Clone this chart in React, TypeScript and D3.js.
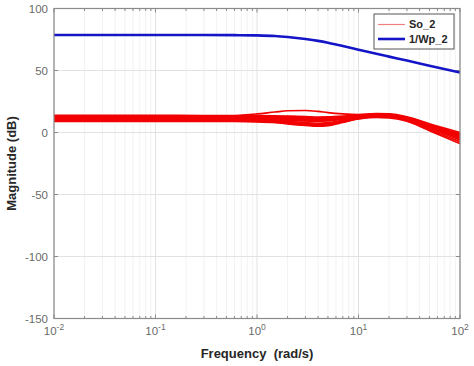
import React from "react";
import * as d3 from "d3";

const freqs = [0.01, 0.1, 0.3, 0.6, 1, 1.5, 2, 3, 4, 5, 7, 10, 15, 20, 30, 50, 100];
const wpInv = [78.6, 78.6, 78.6, 78.5, 78.3, 77.8, 77.0, 75.4, 73.9, 72.4, 69.7, 66.8, 63.5, 61.2, 58.0, 53.9, 48.4];
const so2Curves: number[][] = [
  [12.5, 12.5, 12.8, 13.5, 15.0, 16.5, 17.5, 17.8, 17.0, 16.0, 15.0, 14.5, 14.6, 14.2, 11.8, 6.0, -1.0],
  [13.8, 13.8, 13.7, 13.6, 13.6, 13.5, 13.2, 12.8, 12.5, 12.6, 13.2, 14.2, 15.2, 15.0, 12.6, 7.0, 0.0],
  [12.9, 12.9, 12.9, 12.8, 12.7, 12.4, 12.0, 11.6, 11.4, 11.6, 12.5, 13.8, 14.8, 14.5, 12.2, 6.5, -1.5],
  [12.0, 12.0, 12.0, 12.0, 12.0, 11.8, 11.5, 11.0, 10.8, 11.0, 12.0, 13.5, 14.5, 14.2, 12.0, 6.0, -2.0],
  [11.5, 11.5, 11.5, 11.4, 11.2, 10.8, 10.2, 9.5, 9.0, 9.5, 11.0, 13.0, 14.1, 13.8, 11.5, 5.5, -3.0],
  [11.0, 11.0, 11.0, 10.8, 10.5, 10.0, 9.2, 8.0, 7.5, 8.0, 10.0, 12.5, 13.8, 13.5, 11.0, 5.0, -4.0],
  [10.6, 10.6, 10.5, 10.3, 9.9, 9.3, 8.4, 7.2, 6.6, 7.1, 9.2, 12.1, 13.5, 13.2, 10.6, 4.2, -5.0],
  [10.2, 10.2, 10.1, 9.9, 9.5, 8.7, 7.6, 6.3, 5.6, 6.1, 8.6, 11.6, 13.1, 12.8, 10.1, 3.3, -6.0],
  [9.7, 9.7, 9.6, 9.3, 8.9, 8.1, 6.9, 5.6, 5.0, 5.5, 8.0, 11.1, 12.6, 12.3, 9.5, 2.3, -7.5],
  [9.0, 9.0, 9.0, 8.9, 8.6, 8.1, 7.5, 6.8, 6.5, 7.0, 8.6, 11.0, 12.1, 11.8, 9.0, 1.5, -9.0],
  [12.3, 12.3, 12.3, 12.2, 11.9, 11.4, 10.8, 10.2, 10.0, 10.5, 11.6, 13.2, 14.2, 13.8, 11.2, 5.0, -2.5],
  [10.8, 10.8, 10.8, 10.7, 10.6, 10.4, 10.0, 9.4, 9.2, 9.6, 10.8, 12.6, 13.6, 13.3, 10.8, 4.5, -4.5],
  [11.8, 11.8, 11.9, 12.1, 12.5, 12.8, 12.8, 12.3, 11.8, 11.8, 12.4, 13.6, 14.6, 14.3, 11.9, 5.8, -2.0],
];
const yTicks = [-150, -100, -50, 0, 50, 100];
const xTickExps = [-2, -1, 0, 1, 2];

export default function App() {
  const W = 474, H = 366;
  const left = 54, right = 460, top = 8.5, bottom = 318.5;
  const x = d3.scaleLog().domain([0.01, 100]).range([left, right]);
  const y = d3.scaleLinear().domain([-150, 100]).range([bottom, top]);
  const line = d3.line<number>()
    .x((_, i) => x(freqs[i]))
    .y((d) => y(d))
    .curve(d3.curveMonotoneX);
  const smooth = d3.line<number>()
    .x((_, i) => x(freqs[i]))
    .y((d) => y(d))
    .curve(d3.curveMonotoneX);

  const minor: number[] = [];
  for (let e = -2; e < 2; e++) {
    for (let k = 2; k <= 9; k++) minor.push(k * Math.pow(10, e));
  }
  const majorX = xTickExps.map((e) => Math.pow(10, e));
  const gridCol = "#e2e2e2";
  const axisCol = "#8a8a8a";
  const textCol = "#6a6a6a";
  const font = "Liberation Sans, Arial, sans-serif";

  return (
    <svg width={W} height={H} style={{ position: "absolute", left: 0, top: 0 }} fontFamily={font}>
      <rect x={0} y={0} width={W} height={H} fill="#fff" />
      {minor.map((f, i) => (
        <line key={"mg" + i} x1={x(f)} x2={x(f)} y1={top} y2={bottom} stroke="#efefef" strokeWidth={0.8} />
      ))}
      {majorX.map((f, i) => (
        <line key={"Mgx" + i} x1={x(f)} x2={x(f)} y1={top} y2={bottom} stroke={gridCol} strokeWidth={1} />
      ))}
      {yTicks.map((v, i) => (
        <line key={"Mgy" + i} x1={left} x2={right} y1={y(v)} y2={y(v)} stroke={gridCol} strokeWidth={1} />
      ))}
      {minor.map((f, i) => (
        <g key={"mt" + i}>
          <line x1={x(f)} x2={x(f)} y1={bottom} y2={bottom - 2.5} stroke={axisCol} />
          <line x1={x(f)} x2={x(f)} y1={top} y2={top + 2.5} stroke={axisCol} />
        </g>
      ))}
      {majorX.map((f, i) => (
        <g key={"Mt" + i}>
          <line x1={x(f)} x2={x(f)} y1={bottom} y2={bottom - 4} stroke={axisCol} />
          <line x1={x(f)} x2={x(f)} y1={top} y2={top + 4} stroke={axisCol} />
        </g>
      ))}
      {yTicks.map((v, i) => (
        <g key={"yt" + i}>
          <line x1={left} x2={left + 4} y1={y(v)} y2={y(v)} stroke={axisCol} />
          <line x1={right} x2={right - 4} y1={y(v)} y2={y(v)} stroke={axisCol} />
        </g>
      ))}
      {so2Curves.map((c, i) => (
        <path key={"so" + i} d={line(c) || ""} fill="none" stroke="#f20000" strokeWidth={1.6} />
      ))}
      <path d={smooth(wpInv) || ""} fill="none" stroke="#1515c8" strokeWidth={2.6} />
      <rect x={left} y={top} width={right - left} height={bottom - top} fill="none" stroke={axisCol} strokeWidth={1.2} />
      {yTicks.map((v, i) => (
        <text key={"yl" + i} x={left - 6} y={y(v)} dy="0.35em" textAnchor="end" fontSize={11.5} fill={textCol}>
          {v}
        </text>
      ))}
      {xTickExps.map((e, i) => (
        <text key={"xl" + i} x={x(Math.pow(10, e))} y={335} textAnchor="middle" fontSize={11.5} fill={textCol}>
          10<tspan dy={-5} fontSize={8.5}>{e}</tspan>
        </text>
      ))}
      <text x={257} y={358} textAnchor="middle" fontSize={13} fontWeight="bold" fill="#262626">
        Frequency{"\u00a0\u00a0"}(rad/s)
      </text>
      <text transform={`translate(16,${(top + bottom) / 2}) rotate(-90)`} textAnchor="middle" fontSize={13} fontWeight="bold" fill="#262626">
        Magnitude (dB)
      </text>
      <rect x={374} y={14} width={80} height={35} fill="#fff" stroke="#555" strokeWidth={1} />
      <line x1={378} x2={405} y1={24.5} y2={24.5} stroke="#f08080" strokeWidth={1.2} />
      <text x={409} y={24.5} dy="0.35em" fontSize={11} fontWeight="bold" fill="#262626">So_2</text>
      <line x1={378} x2={405} y1={39} y2={39} stroke="#1515c8" strokeWidth={2.6} />
      <text x={409} y={39} dy="0.35em" fontSize={11} fontWeight="bold" fill="#262626">1/Wp_2</text>
    </svg>
  );
}
